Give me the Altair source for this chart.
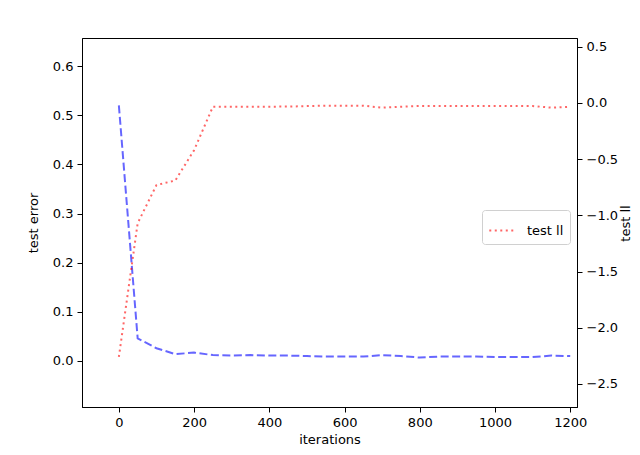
import altair as alt
import pandas as pd

iterations = [0, 50, 100, 150, 200, 250, 300, 350, 400, 450, 500, 550, 600,
              650, 700, 750, 800, 850, 900, 950, 1000, 1050, 1100, 1150, 1200]
test_error = [0.52, 0.046, 0.026, 0.014, 0.017, 0.012, 0.011, 0.012, 0.011, 0.011,
              0.010, 0.009, 0.009, 0.009, 0.012, 0.010, 0.007, 0.009, 0.009, 0.009,
              0.008, 0.008, 0.008, 0.011, 0.010]
test_ll = [-2.26, -1.07, -0.73, -0.69, -0.42, -0.033, -0.033, -0.033, -0.033, -0.032,
           -0.028, -0.024, -0.025, -0.024, -0.042, -0.033, -0.027, -0.027, -0.028, -0.027,
           -0.026, -0.026, -0.027, -0.042, -0.035]

x_ticks = [0, 200, 400, 600, 800, 1000, 1200]
left_ticks = [0.0, 0.1, 0.2, 0.3, 0.4, 0.5, 0.6]
right_ticks = [-2.5, -2.0, -1.5, -1.0, -0.5, 0.0, 0.5]

df = pd.DataFrame({"iterations": iterations, "test_error": test_error,
                   "test_ll": test_ll, "series": ["test ll"] * len(iterations)})

FONT = "DejaVu Sans"
minus_expr = "replace(format(datum.value, '.1f'), '-', '\u2212')"

x = alt.X("iterations:Q", scale=alt.Scale(domain=[-98, 1218], nice=False, zero=False),
          axis=alt.Axis(values=x_ticks, title="iterations", format="d", grid=False))

blue = alt.Chart(df).mark_line(color="blue", opacity=0.6, strokeWidth=2,
                               strokeDash=[8, 3.5]).encode(
    x=x,
    y=alt.Y("test_error:Q", scale=alt.Scale(domain=[-0.0936, 0.657], nice=False, zero=False),
            axis=alt.Axis(values=left_ticks, title="test error", orient="left", grid=False,
                          labelExpr=minus_expr, titlePadding=12)),
)

red = alt.Chart(df).mark_line(opacity=0.6, strokeWidth=2, strokeDash=[2, 3.5]).encode(
    x=x,
    y=alt.Y("test_ll:Q", scale=alt.Scale(domain=[-2.705, 0.578], nice=False, zero=False),
            axis=alt.Axis(values=right_ticks, title="test ll", orient="right", grid=False,
                          labelExpr=minus_expr, titleAngle=270, titleX=48, titleY=185,
                          titleAlign="center", titleBaseline="middle")),
    color=alt.Color("series:N", scale=alt.Scale(domain=["test ll"], range=["red"]),
                    legend=alt.Legend(title=None, orient="none", legendX=400, legendY=172,
                                      symbolType="stroke", symbolDash=[2, 3.5],
                                      symbolStrokeWidth=2, symbolOpacity=0.6, symbolSize=700,
                                      fillColor="white", strokeColor="#d0d0d0",
                                      cornerRadius=3, padding=6, labelFontSize=13,
                                      labelFont=FONT, labelColor="black", labelOffset=10)),
)

chart = alt.layer(blue, red).resolve_scale(y="independent", color="independent").properties(
    width=495, height=369,
    autosize=alt.AutoSizeParams(type="none"),
    padding={"left": 74, "top": 30, "right": 55, "bottom": 40},
    background="white",
).configure_view(stroke="black", strokeWidth=1).configure_axis(
    grid=False, domainColor="black", tickColor="black", labelColor="black",
    titleColor="black", labelFont=FONT, titleFont=FONT, labelFontSize=13,
    titleFontSize=13, titleFontWeight="normal", tickSize=5, labelPadding=4,
)

chart.save("out.html", embed_options={"renderer": "svg", "actions": False})
